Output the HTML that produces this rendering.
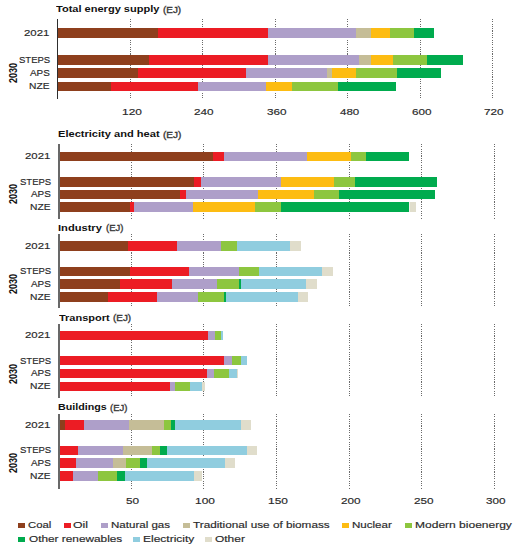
<!DOCTYPE html>
<html><head><meta charset="utf-8"><style>
html,body{margin:0;padding:0;background:#fff;}
body{width:519px;height:550px;position:relative;overflow:hidden;font-family:"Liberation Sans",sans-serif;}
div,span{position:absolute;}
.t{white-space:nowrap;line-height:1;transform-origin:0 0;-webkit-text-stroke:0.16px currentColor;}
.t i{font-style:normal;font-weight:normal;color:#333;-webkit-text-stroke:0.25px #333;}
.ax{background:#2e2e2e;width:1.4px;left:57px;}
.ax2{background:#686868;width:1.8px;left:58px;}
.gl{width:1px;background:repeating-linear-gradient(to bottom,#6a6a6a 0,#6a6a6a 1.1px,transparent 1.1px,transparent 2.3px);}
.sq{width:7px;height:5.1px;}
</style></head><body>
<div class="gl" style="left:129.7px;top:19.3px;height:80.2px"></div>
<div class="gl" style="left:202.0px;top:19.3px;height:80.2px"></div>
<div class="gl" style="left:274.7px;top:19.3px;height:80.2px"></div>
<div class="gl" style="left:347.1px;top:19.3px;height:80.2px"></div>
<div class="gl" style="left:419.6px;top:19.3px;height:80.2px"></div>
<div class="gl" style="left:492.0px;top:19.3px;height:80.2px"></div>
<div class="gl" style="left:130.7px;top:143.6px;height:75.4px"></div>
<div class="gl" style="left:203.0px;top:143.6px;height:75.4px"></div>
<div class="gl" style="left:275.9px;top:143.6px;height:75.4px"></div>
<div class="gl" style="left:348.6px;top:143.6px;height:75.4px"></div>
<div class="gl" style="left:421.1px;top:143.6px;height:75.4px"></div>
<div class="gl" style="left:493.5px;top:143.6px;height:75.4px"></div>
<div class="gl" style="left:130.7px;top:233.8px;height:74.7px"></div>
<div class="gl" style="left:203.0px;top:233.8px;height:74.7px"></div>
<div class="gl" style="left:275.9px;top:233.8px;height:74.7px"></div>
<div class="gl" style="left:348.6px;top:233.8px;height:74.7px"></div>
<div class="gl" style="left:421.1px;top:233.8px;height:74.7px"></div>
<div class="gl" style="left:493.5px;top:233.8px;height:74.7px"></div>
<div class="gl" style="left:130.7px;top:323.8px;height:74.5px"></div>
<div class="gl" style="left:203.0px;top:323.8px;height:74.5px"></div>
<div class="gl" style="left:275.9px;top:323.8px;height:74.5px"></div>
<div class="gl" style="left:348.6px;top:323.8px;height:74.5px"></div>
<div class="gl" style="left:421.1px;top:323.8px;height:74.5px"></div>
<div class="gl" style="left:493.5px;top:323.8px;height:74.5px"></div>
<div class="gl" style="left:130.7px;top:413.5px;height:75.2px"></div>
<div class="gl" style="left:203.0px;top:413.5px;height:75.2px"></div>
<div class="gl" style="left:275.9px;top:413.5px;height:75.2px"></div>
<div class="gl" style="left:348.6px;top:413.5px;height:75.2px"></div>
<div class="gl" style="left:421.1px;top:413.5px;height:75.2px"></div>
<div class="gl" style="left:493.5px;top:413.5px;height:75.2px"></div>
<div style="left:58.00px;top:28.20px;width:100.30px;height:9.70px;background:#8e3f1d"></div>
<div style="left:157.50px;top:28.20px;width:111.50px;height:9.70px;background:#ec1c24"></div>
<div style="left:268.20px;top:28.20px;width:89.00px;height:9.70px;background:#ae9fc9"></div>
<div style="left:356.40px;top:28.20px;width:15.30px;height:9.70px;background:#c5bd97"></div>
<div style="left:370.90px;top:28.20px;width:19.60px;height:9.70px;background:#fdbc12"></div>
<div style="left:389.70px;top:28.20px;width:25.30px;height:9.70px;background:#8dc63f"></div>
<div style="left:414.20px;top:28.20px;width:19.80px;height:9.70px;background:#00ab4e"></div>
<div style="left:58.00px;top:55.00px;width:91.80px;height:10.00px;background:#8e3f1d"></div>
<div style="left:149.00px;top:55.00px;width:120.00px;height:10.00px;background:#ec1c24"></div>
<div style="left:268.20px;top:55.00px;width:92.00px;height:10.00px;background:#ae9fc9"></div>
<div style="left:359.40px;top:55.00px;width:12.50px;height:10.00px;background:#c5bd97"></div>
<div style="left:371.10px;top:55.00px;width:22.90px;height:10.00px;background:#fdbc12"></div>
<div style="left:393.20px;top:55.00px;width:34.60px;height:10.00px;background:#8dc63f"></div>
<div style="left:427.00px;top:55.00px;width:36.40px;height:10.00px;background:#00ab4e"></div>
<div style="left:58.00px;top:68.40px;width:80.80px;height:9.70px;background:#8e3f1d"></div>
<div style="left:138.00px;top:68.40px;width:109.00px;height:9.70px;background:#ec1c24"></div>
<div style="left:246.20px;top:68.40px;width:81.10px;height:9.70px;background:#ae9fc9"></div>
<div style="left:326.50px;top:68.40px;width:6.30px;height:9.70px;background:#c5bd97"></div>
<div style="left:332.00px;top:68.40px;width:24.40px;height:9.70px;background:#fdbc12"></div>
<div style="left:355.60px;top:68.40px;width:42.40px;height:9.70px;background:#8dc63f"></div>
<div style="left:397.20px;top:68.40px;width:43.80px;height:9.70px;background:#00ab4e"></div>
<div style="left:58.00px;top:81.70px;width:53.80px;height:9.70px;background:#8e3f1d"></div>
<div style="left:111.00px;top:81.70px;width:87.30px;height:9.70px;background:#ec1c24"></div>
<div style="left:197.50px;top:81.70px;width:69.30px;height:9.70px;background:#ae9fc9"></div>
<div style="left:266.00px;top:81.70px;width:27.10px;height:9.70px;background:#fdbc12"></div>
<div style="left:292.30px;top:81.70px;width:46.50px;height:9.70px;background:#8dc63f"></div>
<div style="left:338.00px;top:81.70px;width:57.70px;height:9.70px;background:#00ab4e"></div>
<div style="left:59.80px;top:151.60px;width:154.10px;height:9.40px;background:#8e3f1d"></div>
<div style="left:213.10px;top:151.60px;width:12.00px;height:9.40px;background:#ec1c24"></div>
<div style="left:224.30px;top:151.60px;width:83.80px;height:9.40px;background:#ae9fc9"></div>
<div style="left:307.30px;top:151.60px;width:44.60px;height:9.40px;background:#fdbc12"></div>
<div style="left:351.10px;top:151.60px;width:15.90px;height:9.40px;background:#8dc63f"></div>
<div style="left:366.20px;top:151.60px;width:42.80px;height:9.40px;background:#00ab4e"></div>
<div style="left:59.80px;top:177.40px;width:134.80px;height:9.20px;background:#8e3f1d"></div>
<div style="left:193.80px;top:177.40px;width:8.00px;height:9.20px;background:#ec1c24"></div>
<div style="left:201.00px;top:177.40px;width:80.80px;height:9.20px;background:#ae9fc9"></div>
<div style="left:281.00px;top:177.40px;width:53.90px;height:9.20px;background:#fdbc12"></div>
<div style="left:334.10px;top:177.40px;width:22.10px;height:9.20px;background:#8dc63f"></div>
<div style="left:355.40px;top:177.40px;width:81.50px;height:9.20px;background:#00ab4e"></div>
<div style="left:59.80px;top:189.60px;width:121.00px;height:9.20px;background:#8e3f1d"></div>
<div style="left:180.00px;top:189.60px;width:7.10px;height:9.20px;background:#ec1c24"></div>
<div style="left:186.30px;top:189.60px;width:72.20px;height:9.20px;background:#ae9fc9"></div>
<div style="left:257.70px;top:189.60px;width:57.10px;height:9.20px;background:#fdbc12"></div>
<div style="left:314.00px;top:189.60px;width:25.40px;height:9.20px;background:#8dc63f"></div>
<div style="left:338.60px;top:189.60px;width:96.80px;height:9.20px;background:#00ab4e"></div>
<div style="left:59.80px;top:202.40px;width:71.20px;height:9.20px;background:#8e3f1d"></div>
<div style="left:130.20px;top:202.40px;width:4.30px;height:9.20px;background:#ec1c24"></div>
<div style="left:133.70px;top:202.40px;width:59.90px;height:9.20px;background:#ae9fc9"></div>
<div style="left:192.80px;top:202.40px;width:62.70px;height:9.20px;background:#fdbc12"></div>
<div style="left:254.70px;top:202.40px;width:27.10px;height:9.20px;background:#8dc63f"></div>
<div style="left:281.00px;top:202.40px;width:129.10px;height:9.20px;background:#00ab4e"></div>
<div style="left:409.30px;top:202.40px;width:1.80px;height:9.20px;background:#f4f2ec"></div>
<div style="left:410.30px;top:202.40px;width:5.60px;height:9.20px;background:#e0ddcb"></div>
<div style="left:59.80px;top:241.00px;width:68.90px;height:9.50px;background:#8e3f1d"></div>
<div style="left:127.90px;top:241.00px;width:49.70px;height:9.50px;background:#ec1c24"></div>
<div style="left:176.80px;top:241.00px;width:45.10px;height:9.50px;background:#ae9fc9"></div>
<div style="left:221.10px;top:241.00px;width:16.90px;height:9.50px;background:#8dc63f"></div>
<div style="left:237.20px;top:241.00px;width:53.70px;height:9.50px;background:#90cddf"></div>
<div style="left:290.10px;top:241.00px;width:10.60px;height:9.50px;background:#e0ddcb"></div>
<div style="left:59.80px;top:266.70px;width:71.40px;height:9.30px;background:#8e3f1d"></div>
<div style="left:130.40px;top:266.70px;width:59.20px;height:9.30px;background:#ec1c24"></div>
<div style="left:188.80px;top:266.70px;width:51.40px;height:9.30px;background:#ae9fc9"></div>
<div style="left:239.40px;top:266.70px;width:20.60px;height:9.30px;background:#8dc63f"></div>
<div style="left:259.20px;top:266.70px;width:63.80px;height:9.30px;background:#90cddf"></div>
<div style="left:322.20px;top:266.70px;width:11.30px;height:9.30px;background:#e0ddcb"></div>
<div style="left:59.80px;top:279.30px;width:60.70px;height:9.40px;background:#8e3f1d"></div>
<div style="left:119.70px;top:279.30px;width:53.10px;height:9.40px;background:#ec1c24"></div>
<div style="left:172.00px;top:279.30px;width:45.90px;height:9.40px;background:#ae9fc9"></div>
<div style="left:217.10px;top:279.30px;width:23.10px;height:9.40px;background:#8dc63f"></div>
<div style="left:239.40px;top:279.30px;width:2.40px;height:9.40px;background:#00ab4e"></div>
<div style="left:241.00px;top:279.30px;width:65.70px;height:9.40px;background:#90cddf"></div>
<div style="left:305.90px;top:279.30px;width:11.10px;height:9.40px;background:#e0ddcb"></div>
<div style="left:59.80px;top:292.10px;width:49.10px;height:9.50px;background:#8e3f1d"></div>
<div style="left:108.10px;top:292.10px;width:49.70px;height:9.50px;background:#ec1c24"></div>
<div style="left:157.00px;top:292.10px;width:42.10px;height:9.50px;background:#ae9fc9"></div>
<div style="left:198.30px;top:292.10px;width:26.10px;height:9.50px;background:#8dc63f"></div>
<div style="left:223.60px;top:292.10px;width:2.80px;height:9.50px;background:#00ab4e"></div>
<div style="left:225.60px;top:292.10px;width:73.30px;height:9.50px;background:#90cddf"></div>
<div style="left:298.10px;top:292.10px;width:10.10px;height:9.50px;background:#e0ddcb"></div>
<div style="left:59.80px;top:330.50px;width:148.80px;height:9.50px;background:#ec1c24"></div>
<div style="left:207.80px;top:330.50px;width:8.00px;height:9.50px;background:#ae9fc9"></div>
<div style="left:215.00px;top:330.50px;width:6.90px;height:9.50px;background:#8dc63f"></div>
<div style="left:221.10px;top:330.50px;width:2.20px;height:9.50px;background:#90cddf"></div>
<div style="left:59.80px;top:356.20px;width:164.70px;height:9.30px;background:#ec1c24"></div>
<div style="left:223.70px;top:356.20px;width:8.60px;height:9.30px;background:#ae9fc9"></div>
<div style="left:231.50px;top:356.20px;width:10.30px;height:9.30px;background:#8dc63f"></div>
<div style="left:241.00px;top:356.20px;width:6.00px;height:9.30px;background:#90cddf"></div>
<div style="left:59.80px;top:369.00px;width:148.40px;height:9.20px;background:#ec1c24"></div>
<div style="left:207.40px;top:369.00px;width:7.30px;height:9.20px;background:#ae9fc9"></div>
<div style="left:213.90px;top:369.00px;width:16.10px;height:9.20px;background:#8dc63f"></div>
<div style="left:229.20px;top:369.00px;width:8.80px;height:9.20px;background:#90cddf"></div>
<div style="left:237.20px;top:369.00px;width:0.50px;height:9.20px;background:#e0ddcb"></div>
<div style="left:59.80px;top:381.50px;width:110.50px;height:9.50px;background:#ec1c24"></div>
<div style="left:169.50px;top:381.50px;width:5.90px;height:9.50px;background:#ae9fc9"></div>
<div style="left:174.60px;top:381.50px;width:16.30px;height:9.50px;background:#8dc63f"></div>
<div style="left:190.10px;top:381.50px;width:12.60px;height:9.50px;background:#90cddf"></div>
<div style="left:201.90px;top:381.50px;width:2.70px;height:9.50px;background:#e0ddcb"></div>
<div style="left:59.80px;top:420.00px;width:5.50px;height:9.60px;background:#8e3f1d"></div>
<div style="left:64.50px;top:420.00px;width:20.60px;height:9.60px;background:#ec1c24"></div>
<div style="left:84.30px;top:420.00px;width:45.70px;height:9.60px;background:#ae9fc9"></div>
<div style="left:129.20px;top:420.00px;width:35.50px;height:9.60px;background:#c5bd97"></div>
<div style="left:163.90px;top:420.00px;width:8.10px;height:9.60px;background:#8dc63f"></div>
<div style="left:171.20px;top:420.00px;width:4.90px;height:9.60px;background:#00ab4e"></div>
<div style="left:175.30px;top:420.00px;width:66.50px;height:9.60px;background:#90cddf"></div>
<div style="left:241.00px;top:420.00px;width:9.80px;height:9.60px;background:#e0ddcb"></div>
<div style="left:59.80px;top:445.60px;width:1.40px;height:9.50px;background:#8e3f1d"></div>
<div style="left:60.40px;top:445.60px;width:18.40px;height:9.50px;background:#ec1c24"></div>
<div style="left:78.00px;top:445.60px;width:45.50px;height:9.50px;background:#ae9fc9"></div>
<div style="left:122.70px;top:445.60px;width:29.70px;height:9.50px;background:#c5bd97"></div>
<div style="left:151.60px;top:445.60px;width:9.50px;height:9.50px;background:#8dc63f"></div>
<div style="left:160.30px;top:445.60px;width:7.10px;height:9.50px;background:#00ab4e"></div>
<div style="left:166.60px;top:445.60px;width:81.20px;height:9.50px;background:#90cddf"></div>
<div style="left:247.00px;top:445.60px;width:10.00px;height:9.50px;background:#e0ddcb"></div>
<div style="left:59.80px;top:458.20px;width:1.40px;height:9.60px;background:#8e3f1d"></div>
<div style="left:60.40px;top:458.20px;width:16.20px;height:9.60px;background:#ec1c24"></div>
<div style="left:75.80px;top:458.20px;width:38.10px;height:9.60px;background:#ae9fc9"></div>
<div style="left:113.10px;top:458.20px;width:14.10px;height:9.60px;background:#c5bd97"></div>
<div style="left:126.40px;top:458.20px;width:14.40px;height:9.60px;background:#8dc63f"></div>
<div style="left:140.00px;top:458.20px;width:8.00px;height:9.60px;background:#00ab4e"></div>
<div style="left:147.20px;top:458.20px;width:78.60px;height:9.60px;background:#90cddf"></div>
<div style="left:225.00px;top:458.20px;width:9.70px;height:9.60px;background:#e0ddcb"></div>
<div style="left:59.80px;top:470.90px;width:14.30px;height:9.70px;background:#ec1c24"></div>
<div style="left:73.30px;top:470.90px;width:25.10px;height:9.70px;background:#ae9fc9"></div>
<div style="left:97.60px;top:470.90px;width:20.50px;height:9.70px;background:#8dc63f"></div>
<div style="left:117.30px;top:470.90px;width:8.20px;height:9.70px;background:#00ab4e"></div>
<div style="left:124.70px;top:470.90px;width:70.50px;height:9.70px;background:#90cddf"></div>
<div style="left:194.40px;top:470.90px;width:8.00px;height:9.70px;background:#e0ddcb"></div>
<div class="ax" style="top:19.3px;height:80.2px"></div>
<div class="ax2" style="top:143.6px;height:75.4px"></div>
<div class="ax2" style="top:233.8px;height:74.7px"></div>
<div class="ax2" style="top:323.8px;height:74.5px"></div>
<div class="ax2" style="top:413.5px;height:75.2px"></div>
<div class="sq" style="left:18.2px;top:522.9px;background:#8e3f1d"></div>
<div class="sq" style="left:63.8px;top:522.9px;background:#ec1c24"></div>
<div class="sq" style="left:101.2px;top:522.9px;background:#ae9fc9"></div>
<div class="sq" style="left:183.1px;top:522.9px;background:#c5bd97"></div>
<div class="sq" style="left:341.9px;top:522.9px;background:#fdbc12"></div>
<div class="sq" style="left:405.0px;top:522.9px;background:#8dc63f"></div>
<div class="sq" style="left:18.3px;top:536.8px;background:#00ab4e"></div>
<div class="sq" style="left:132.8px;top:536.8px;background:#90cddf"></div>
<div class="sq" style="left:205.0px;top:536.8px;background:#e0ddcb"></div>
<span class="t" style="left:56.30px;top:5.32px;font-size:9.2px;font-weight:700;color:#111;transform:scale(1.201,1.040);-webkit-text-stroke:0">Total energy supply</span>
<span class="t" style="left:163.30px;top:7.05px;font-size:8.2px;font-weight:400;color:#383838;transform:scale(1.207,1.009);-webkit-text-stroke:0.32px currentColor">(EJ)</span>
<span class="t" style="left:24.18px;top:28.87px;font-size:9.2px;font-weight:400;color:#2a2a2a;transform:scale(1.241,1.040)">2021</span>
<span class="t" style="left:18.68px;top:55.82px;font-size:9.2px;font-weight:400;color:#2a2a2a;transform:scale(1.036,1.040)">STEPS</span>
<span class="t" style="left:30.20px;top:69.07px;font-size:9.2px;font-weight:400;color:#2a2a2a;transform:scale(1.078,1.040)">APS</span>
<span class="t" style="left:29.07px;top:82.37px;font-size:9.2px;font-weight:400;color:#2a2a2a;transform:scale(1.113,1.040)">NZE</span>
<span class="t" style="left:58.30px;top:129.82px;font-size:9.2px;font-weight:700;color:#111;transform:scale(1.206,1.040);-webkit-text-stroke:0">Electricity and heat</span>
<span class="t" style="left:163.29px;top:131.55px;font-size:8.2px;font-weight:400;color:#383838;transform:scale(1.229,1.009);-webkit-text-stroke:0.32px currentColor">(EJ)</span>
<span class="t" style="left:25.28px;top:152.12px;font-size:9.2px;font-weight:400;color:#2a2a2a;transform:scale(1.241,1.040)">2021</span>
<span class="t" style="left:19.78px;top:177.82px;font-size:9.2px;font-weight:400;color:#2a2a2a;transform:scale(1.036,1.040)">STEPS</span>
<span class="t" style="left:31.30px;top:190.02px;font-size:9.2px;font-weight:400;color:#2a2a2a;transform:scale(1.078,1.040)">APS</span>
<span class="t" style="left:30.17px;top:202.82px;font-size:9.2px;font-weight:400;color:#2a2a2a;transform:scale(1.113,1.040)">NZE</span>
<span class="t" style="left:58.29px;top:223.72px;font-size:9.2px;font-weight:700;color:#111;transform:scale(1.211,1.040);-webkit-text-stroke:0">Industry</span>
<span class="t" style="left:105.62px;top:225.35px;font-size:8.2px;font-weight:400;color:#383838;transform:scale(1.157,1.009);-webkit-text-stroke:0.32px currentColor">(EJ)</span>
<span class="t" style="left:25.28px;top:241.57px;font-size:9.2px;font-weight:400;color:#2a2a2a;transform:scale(1.241,1.040)">2021</span>
<span class="t" style="left:19.78px;top:267.17px;font-size:9.2px;font-weight:400;color:#2a2a2a;transform:scale(1.036,1.040)">STEPS</span>
<span class="t" style="left:31.30px;top:279.82px;font-size:9.2px;font-weight:400;color:#2a2a2a;transform:scale(1.078,1.040)">APS</span>
<span class="t" style="left:30.17px;top:292.67px;font-size:9.2px;font-weight:400;color:#2a2a2a;transform:scale(1.113,1.040)">NZE</span>
<span class="t" style="left:58.90px;top:313.62px;font-size:9.2px;font-weight:700;color:#111;transform:scale(1.193,1.040);-webkit-text-stroke:0">Transport</span>
<span class="t" style="left:113.30px;top:315.35px;font-size:8.2px;font-weight:400;color:#383838;transform:scale(1.207,1.009);-webkit-text-stroke:0.32px currentColor">(EJ)</span>
<span class="t" style="left:25.28px;top:331.07px;font-size:9.2px;font-weight:400;color:#2a2a2a;transform:scale(1.241,1.040)">2021</span>
<span class="t" style="left:19.78px;top:356.67px;font-size:9.2px;font-weight:400;color:#2a2a2a;transform:scale(1.036,1.040)">STEPS</span>
<span class="t" style="left:31.30px;top:369.42px;font-size:9.2px;font-weight:400;color:#2a2a2a;transform:scale(1.078,1.040)">APS</span>
<span class="t" style="left:30.17px;top:382.07px;font-size:9.2px;font-weight:400;color:#2a2a2a;transform:scale(1.113,1.040)">NZE</span>
<span class="t" style="left:58.32px;top:403.12px;font-size:9.2px;font-weight:700;color:#111;transform:scale(1.163,1.040);-webkit-text-stroke:0">Buildings</span>
<span class="t" style="left:109.82px;top:404.95px;font-size:8.2px;font-weight:400;color:#383838;transform:scale(1.157,1.009);-webkit-text-stroke:0.32px currentColor">(EJ)</span>
<span class="t" style="left:25.28px;top:420.62px;font-size:9.2px;font-weight:400;color:#2a2a2a;transform:scale(1.241,1.040)">2021</span>
<span class="t" style="left:19.78px;top:446.17px;font-size:9.2px;font-weight:400;color:#2a2a2a;transform:scale(1.036,1.040)">STEPS</span>
<span class="t" style="left:31.30px;top:458.82px;font-size:9.2px;font-weight:400;color:#2a2a2a;transform:scale(1.078,1.040)">APS</span>
<span class="t" style="left:30.17px;top:471.57px;font-size:9.2px;font-weight:400;color:#2a2a2a;transform:scale(1.113,1.040)">NZE</span>
<span class="t" style="left:121.78px;top:108.21px;font-size:9.2px;font-weight:400;color:#2a2a2a;transform:scale(1.298,1.056)">120</span>
<span class="t" style="left:194.41px;top:108.21px;font-size:9.2px;font-weight:400;color:#2a2a2a;transform:scale(1.276,1.056)">240</span>
<span class="t" style="left:267.11px;top:108.21px;font-size:9.2px;font-weight:400;color:#2a2a2a;transform:scale(1.276,1.056)">360</span>
<span class="t" style="left:339.84px;top:108.21px;font-size:9.2px;font-weight:400;color:#2a2a2a;transform:scale(1.254,1.056)">480</span>
<span class="t" style="left:412.01px;top:108.21px;font-size:9.2px;font-weight:400;color:#2a2a2a;transform:scale(1.276,1.056)">600</span>
<span class="t" style="left:484.41px;top:108.21px;font-size:9.2px;font-weight:400;color:#2a2a2a;transform:scale(1.276,1.056)">720</span>
<span class="t" style="left:126.26px;top:497.22px;font-size:9.2px;font-weight:400;color:#2a2a2a;transform:scale(1.284,1.040)">50</span>
<span class="t" style="left:195.08px;top:497.22px;font-size:9.2px;font-weight:400;color:#2a2a2a;transform:scale(1.298,1.040)">100</span>
<span class="t" style="left:267.98px;top:497.22px;font-size:9.2px;font-weight:400;color:#2a2a2a;transform:scale(1.298,1.040)">150</span>
<span class="t" style="left:341.01px;top:497.22px;font-size:9.2px;font-weight:400;color:#2a2a2a;transform:scale(1.276,1.040)">200</span>
<span class="t" style="left:413.51px;top:497.22px;font-size:9.2px;font-weight:400;color:#2a2a2a;transform:scale(1.276,1.040)">250</span>
<span class="t" style="left:485.91px;top:497.22px;font-size:9.2px;font-weight:400;color:#2a2a2a;transform:scale(1.276,1.040)">300</span>
<span class="t" style="left:28.19px;top:520.25px;font-size:9.4px;font-weight:400;color:#2a2a2a;transform:scale(1.211,1.031)">Coal</span>
<span class="t" style="left:73.24px;top:520.25px;font-size:9.4px;font-weight:400;color:#2a2a2a;transform:scale(1.314,1.031)">Oil</span>
<span class="t" style="left:110.88px;top:520.25px;font-size:9.4px;font-weight:400;color:#2a2a2a;transform:scale(1.232,1.031)">Natural gas</span>
<span class="t" style="left:192.59px;top:520.25px;font-size:9.4px;font-weight:400;color:#2a2a2a;transform:scale(1.253,1.031)">Traditional use of biomass</span>
<span class="t" style="left:351.98px;top:520.25px;font-size:9.4px;font-weight:400;color:#2a2a2a;transform:scale(1.232,1.031)">Nuclear</span>
<span class="t" style="left:415.04px;top:520.25px;font-size:9.4px;font-weight:400;color:#2a2a2a;transform:scale(1.282,1.031)">Modern bioenergy</span>
<span class="t" style="left:28.67px;top:534.15px;font-size:9.4px;font-weight:400;color:#2a2a2a;transform:scale(1.260,1.031)">Other renewables</span>
<span class="t" style="left:142.84px;top:534.15px;font-size:9.4px;font-weight:400;color:#2a2a2a;transform:scale(1.279,1.031)">Electricity</span>
<span class="t" style="left:214.56px;top:534.15px;font-size:9.4px;font-weight:400;color:#2a2a2a;transform:scale(1.275,1.031)">Other</span>
<span class="t" style="left:-0.80px;top:68.25px;font-size:10px;font-weight:bold;color:#111;width:30px;height:10px;line-height:10px;text-align:center;transform-origin:center;transform:rotate(-90deg) scale(0.91,1.0);-webkit-text-stroke:0">2030</span>
<span class="t" style="left:-1.40px;top:189.20px;font-size:10px;font-weight:bold;color:#111;width:30px;height:10px;line-height:10px;text-align:center;transform-origin:center;transform:rotate(-90deg) scale(0.91,1.0);-webkit-text-stroke:0">2030</span>
<span class="t" style="left:-1.40px;top:279.00px;font-size:10px;font-weight:bold;color:#111;width:30px;height:10px;line-height:10px;text-align:center;transform-origin:center;transform:rotate(-90deg) scale(0.91,1.0);-webkit-text-stroke:0">2030</span>
<span class="t" style="left:-1.40px;top:368.60px;font-size:10px;font-weight:bold;color:#111;width:30px;height:10px;line-height:10px;text-align:center;transform-origin:center;transform:rotate(-90deg) scale(0.91,1.0);-webkit-text-stroke:0">2030</span>
<span class="t" style="left:-1.40px;top:458.00px;font-size:10px;font-weight:bold;color:#111;width:30px;height:10px;line-height:10px;text-align:center;transform-origin:center;transform:rotate(-90deg) scale(0.91,1.0);-webkit-text-stroke:0">2030</span>
</body></html>
